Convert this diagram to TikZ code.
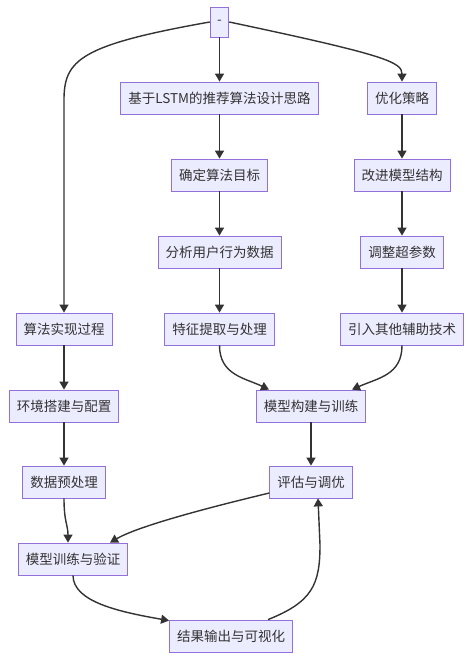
\documentclass[tikz,border=0pt]{standalone}
\usepackage{fontspec}
\setmainfont{Noto Sans CJK SC}
\usetikzlibrary{arrows.meta}
\definecolor{boxfill}{HTML}{ECECFF}
\definecolor{boxline}{HTML}{9370DB}
\definecolor{ink}{HTML}{333333}
\begin{document}
\begin{tikzpicture}[x=1pt,y=-1pt,
        box/.style={draw=boxline,fill=boxfill,line width=0.8pt,minimum height=32pt,inner xsep=7.5pt,text=ink,font=\fontsize{13.5}{16}\selectfont},
        link/.style={draw=ink,line width=1.4pt,-{Triangle[length=8pt,width=9pt]}}]
                \useasboundingbox (0,0) rectangle (474,660);
                \node[box,minimum height=30pt,inner xsep=7pt] (R) at (219.5,22) {-};
                \node[box] (L) at (219.5,98) {基于LSTM的推荐算法设计思路};
                \node[box] (O) at (402,98) {优化策略};
                \node[box] (C) at (219.5,175) {确定算法目标};
                \node[box] (S) at (402,175) {改进模型结构};
                \node[box] (U) at (219.5,252) {分析用户行为数据};
                \node[box] (P) at (402,252) {调整超参数};
                \node[box] (A) at (64,329) {算法实现过程};
                \node[box] (F) at (219.5,329) {特征提取与处理};
                \node[box] (H) at (402,329) {引入其他辅助技术};
                \node[box] (K) at (64,406) {环境搭建与配置};
                \node[box] (M) at (311,406) {模型构建与训练};
                \node[box] (D) at (64,482) {数据预处理};
                \node[box] (E) at (311,482) {评估与调优};
                \node[box] (V) at (73,559) {模型训练与验证};
                \node[box] (G) at (231,636) {结果输出与可视化};
                \draw[link] (R) -- (L);
                \draw[link] (R.west) .. controls (80,45) and (64,60) .. (64,100) -- (A.north);
                \draw[link] (R.east) .. controls (385,55) and (402,62) .. (O.north);
                \draw[link] (L) -- (C);
                \draw[link] (C) -- (U);
                \draw[link] (U) -- (F);
                \draw[link] (O) -- (S);
                \draw[link] (S) -- (P);
                \draw[link] (P) -- (H);
                \draw[link] (F.south) .. controls (219.5,375) and (245,378) .. ([xshift=-42pt]M.north);
                \draw[link] (H.south) .. controls (402,375) and (378,378) .. ([xshift=41pt]M.north);
                \draw[link] (A) -- (K);
                \draw[link] (K) -- (D);
                \draw[link] (M) -- (E);
                \draw[link] (D.south) .. controls (64,522) and (68,525) .. ([xshift=-5pt]V.north);
                \draw[link] ([yshift=-11pt]E.west) .. controls (190,512) and (135,528) .. ([xshift=37pt]V.north);
                \draw[link] (V.south) .. controls (73,602) and (120,612) .. ([yshift=-1pt]G.north west);
                \draw[link] ([xshift=37pt]G.north) .. controls (312,602) and (320,585) .. (320,545) -- ([xshift=7pt]E.south);
            \end{tikzpicture}
\end{document}
